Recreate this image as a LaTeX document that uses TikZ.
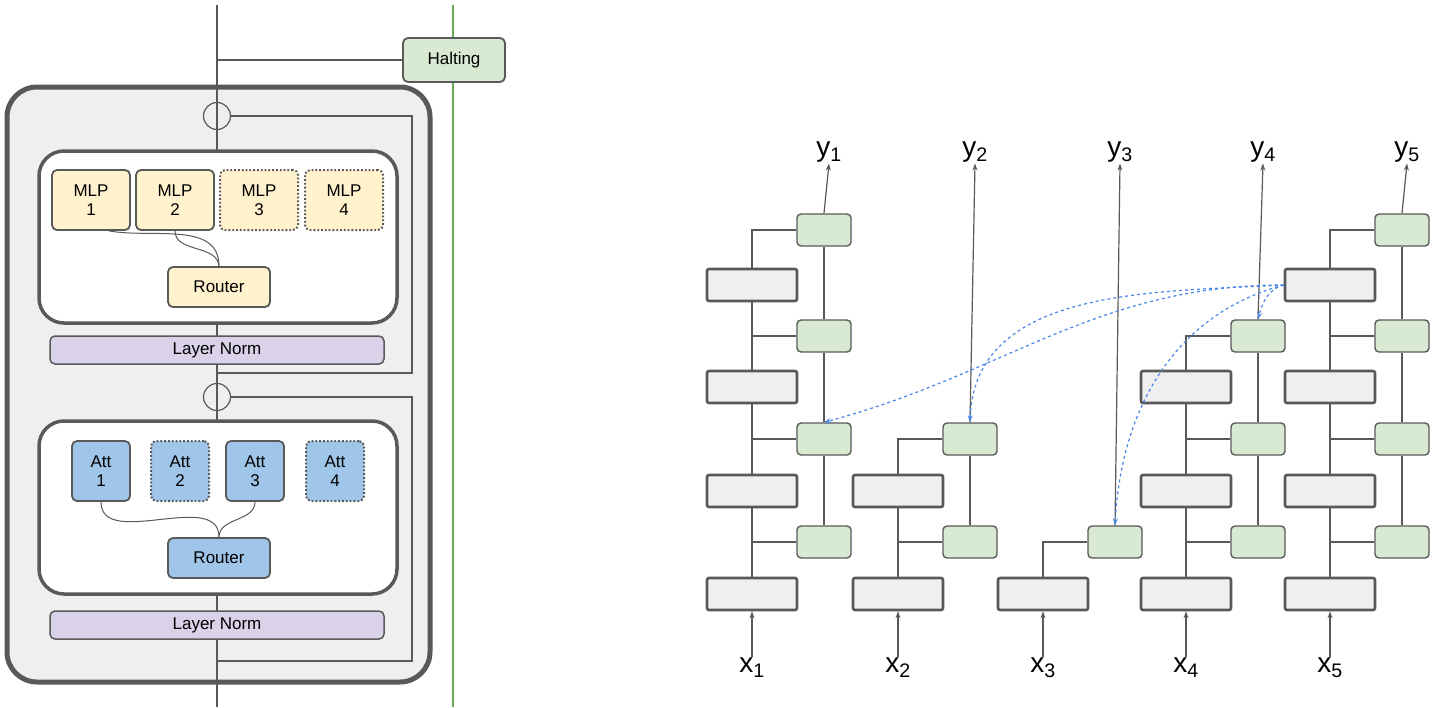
\documentclass[tikz,border=0pt]{standalone}
\usepackage{fontspec}
\setmainfont{Liberation Sans}
\usetikzlibrary{arrows.meta,positioning,calc}
\definecolor{edge}{HTML}{595959}
\definecolor{shade}{HTML}{EFEFEF}
\definecolor{mlpfill}{HTML}{FFF2CC}
\definecolor{attfill}{HTML}{9FC5E8}
\definecolor{normfill}{HTML}{D9D2E9}
\definecolor{haltfill}{HTML}{D9EAD3}
\definecolor{haltline}{HTML}{6AA84F}
\definecolor{skip}{HTML}{4A86E8}

\begin{document}
\begin{tikzpicture}[
    x=1pt,y=-1pt,
    wire/.style={draw=edge,line width=1.2pt},
    unit/.style={rectangle,draw=edge,rounded corners=5pt,line width=1.8pt,align=center,font=\fontsize{17}{19}\selectfont,inner sep=0pt},
    expert/.style={unit,fill=mlpfill,minimum width=78pt,minimum height=60pt},
    head/.style={unit,fill=attfill,minimum width=58pt,minimum height=60pt},
    idle/.style={dotted,line width=2pt},
    router/.style={unit,minimum width=102pt,minimum height=40pt},
    lnorm/.style={unit,fill=normfill,minimum width=334pt,minimum height=28pt,line width=1.5pt},
    cell/.style={rectangle,draw=edge,fill=shade,rounded corners=2pt,line width=2.6pt,minimum width=90pt,minimum height=32pt},
    gate/.style={rectangle,draw=edge,fill=haltfill,rounded corners=4pt,line width=1.4pt,minimum width=54pt,minimum height=32pt},
    lbl/.style={font=\fontsize{28}{30}\selectfont,inner sep=1pt},
    >={Stealth[length=7pt,width=5pt]}]
  \useasboundingbox (0,0) rectangle (1448,707);

  % left: the block
  \draw[draw=haltline,line width=2pt] (453,5) -- (453,707);
  \node[unit,fill=haltfill,minimum width=102pt,minimum height=44pt] (halt) at (454,60) {Halting};
  \draw[draw=edge,line width=5pt,fill=shade,rounded corners=30pt] (7,87) rectangle (430,682);
  \draw[wire,line width=2pt] (217,5) -- (217,707);
  \draw[wire,line width=2pt] (217,60) -- (halt.west);
  \node[circle,draw=edge,line width=1.2pt,minimum size=27pt,inner sep=0pt] (sum1) at (217,116) {};
  \node[circle,draw=edge,line width=1.2pt,minimum size=27pt,inner sep=0pt] (sum2) at (217,397) {};
  \draw[wire,line width=2pt] (sum1.east) -- (412,116) |- (217,373);
  \draw[wire,line width=2pt] (sum2.east) -- (412,397) |- (217,661);
  \draw[draw=edge,line width=3.5pt,fill=white,rounded corners=25pt] (39,151) rectangle (397,323);
  \draw[draw=edge,line width=3.5pt,fill=white,rounded corners=25pt] (39,421) rectangle (397,594);

  \node[expert] (m1) at (91,200) {MLP\\1};
  \node[expert] (m2) at (175,200) {MLP\\2};
  \node[expert,idle] (m3) at (259,200) {MLP\\3};
  \node[expert,idle] (m4) at (344,200) {MLP\\4};
  \node[router,fill=mlpfill] (rt1) at (219,287) {Router};
  \draw[draw=edge,line width=1pt] (m1.-60) to[out=-10,in=90] (rt1.north);
  \draw[draw=edge,line width=1pt] (m2.south) to[out=-90,in=95] (rt1.north);
  \node[lnorm] (ln1) at (217,350) {Layer Norm};

  \node[head] (a1) at (101,471) {Att\\1};
  \node[head,idle] (a2) at (180,471) {Att\\2};
  \node[head] (a3) at (255,471) {Att\\3};
  \node[head,idle] (a4) at (335,471) {Att\\4};
  \node[router,fill=attfill] (rt2) at (219,558) {Router};
  \draw[draw=edge,line width=1pt] (a1.south) to[out=-90,in=90] (rt2.north);
  \draw[draw=edge,line width=1pt] (a3.south) to[out=-90,in=90] (rt2.north);
  \node[lnorm] (ln2) at (217,625) {Layer Norm};

  % right: the unrolled columns
  \foreach \i/\gx/\n in {1/752/4,2/898/2,3/1043/1,4/1186/3,5/1330/4}{
    \node[lbl] (x\i) at (\gx,668) {x\textsubscript{\i}};
    \node[lbl] (y\i) at (\gx+77,152) {y\textsubscript{\i}};
    \foreach \k in {1,...,\n}{
      \pgfmathsetmacro{\gy}{{594,491,387,285}[\k-1]}
      \pgfmathsetmacro{\ry}{{542,439,336,230}[\k-1]}
      \node[cell] (g\i-\k) at (\gx,\gy) {};
      \node[gate] (r\i-\k) at (\gx+72,\ry) {};
      \draw[wire] (g\i-\k.north) |- (r\i-\k.west);
    }
    \draw[wire,->] (x\i.north) -- (g\i-1.south);
    \draw[wire,->] (r\i-\n.north) -- (y\i.south);
  }
  \foreach \i/\n in {1/4,2/2,4/3,5/4}{
    \foreach \k [evaluate=\k as \j using int(\k+1)] in {1,...,\n}{
      \ifnum\k<\n
        \draw[wire] (g\i-\k.north) -- (g\i-\j.south);
        \draw[wire] (r\i-\k.north) -- (r\i-\j.south);
      \fi
    }
  }

  % skip connections
  \draw[skip,dashed,line width=1.2pt,->] (g5-4.west) to[out=180,in=15] (r1-2.north);
  \draw[skip,dashed,line width=1.2pt,->] (g5-4.west) to[out=183,in=88] (r2-2.north);
  \draw[skip,dashed,line width=1.2pt,->] (g5-4.west) to[out=195,in=87] (r3-1.north);
  \draw[skip,dashed,line width=1.2pt,->] (g5-4.west) to[out=195,in=75] (r4-3.north);
\end{tikzpicture}
\end{document}
